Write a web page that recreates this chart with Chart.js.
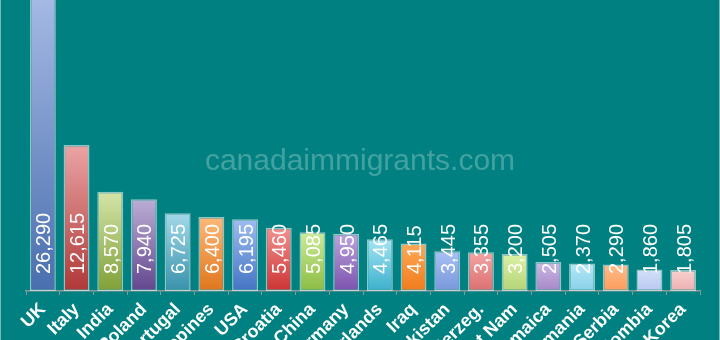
<!DOCTYPE html>
<html>
<head>
<meta charset="utf-8">
<script src="https://cdn.jsdelivr.net/npm/chart.js@4"></script>
<style>
  html, body { margin: 0; padding: 0; background: #008080; overflow: hidden; }
  #wrap { width: 720px; height: 340px; position: relative; }
</style>
</head>
<body>
<div id="wrap"><canvas id="c" width="720" height="340"></canvas></div>
<script>
const categories = ["UK", "Italy", "India", "Poland", "Portugal", "Philippines", "USA", "Croatia", "China", "Germany",
  "Netherlands", "Iraq", "Pakistan", "Bosnia-Herzeg.", "Viet Nam", "Jamaica", "Romania", "Serbia", "Colombia", "S. Korea"];
const immigrants = [26290, 12615, 8570, 7940, 6725, 6400, 6195, 5460, 5085, 4950,
  4465, 4115, 3445, 3355, 3200, 2505, 2370, 2290, 1860, 1805];
const topColors = ["#a8bce6", "#eaa4a4", "#d4e4a8", "#bcaed6", "#a4d8ea", "#fdb878", "#9ebcf0", "#f49090", "#cceb98", "#bca4dc",
  "#a4e4f4", "#ffa858", "#a8c0f4", "#f4a4a4", "#dcf0a4", "#ccb8e4", "#b4e8f8", "#ffbc8c", "#d4e0f8", "#f8d0d0"];
const bottomColors = ["#4a6fae", "#b03838", "#80a038", "#62468e", "#3892aa", "#e0761e", "#4474c4", "#cc3434", "#8cbc44", "#7c52ae",
  "#3cb0cc", "#f07c1c", "#7898dc", "#dc7070", "#b4d478", "#a488c8", "#88d0e8", "#fc9c5c", "#b8c8f0", "#ecb0b0"];
const watermark = "canadaimmigrants.com";

const FONT = "'Liberation Sans', Arial, sans-serif";

const bgPlugin = {
  id: 'bg',
  beforeDraw(chart) {
    const ctx = chart.ctx;
    ctx.save();
    ctx.fillStyle = '#008080';
    ctx.fillRect(0, 0, chart.width, chart.height);
    ctx.fillStyle = 'rgba(200,225,225,0.6)';
    ctx.fillRect(0, 0, 1, chart.height);
    ctx.fillRect(chart.width - 1, 0, 1, chart.height);
    ctx.font = '30px ' + FONT;
    ctx.fillStyle = 'rgba(255,255,255,0.26)';
    ctx.textAlign = 'center';
    ctx.textBaseline = 'alphabetic';
    ctx.fillText(watermark, 360, 170);
    ctx.restore();
  }
};

const valuePlugin = {
  id: 'vals',
  afterDatasetsDraw(chart) {
    const ctx = chart.ctx;
    const meta = chart.getDatasetMeta(0);
    const base = chart.scales.y.getPixelForValue(0);
    ctx.save();
    ctx.font = '20px ' + FONT;
    ctx.fillStyle = '#ffffff';
    ctx.textAlign = 'left';
    ctx.textBaseline = 'alphabetic';
    meta.data.forEach((bar, i) => {
      ctx.save();
      ctx.translate(bar.x + 7.5, base - 17);
      ctx.rotate(-Math.PI / 2);
      ctx.fillText(immigrants[i].toLocaleString('en-US'), 0, 0);
      ctx.restore();
    });
    ctx.restore();
  }
};

function barGradient(context) {
  const chart = context.chart;
  const i = context.dataIndex;
  const area = chart.chartArea;
  if (!area || i === undefined) return bottomColors[i || 0];
  const y = chart.scales.y;
  const top = y.getPixelForValue(immigrants[i]);
  const bot = y.getPixelForValue(0);
  const g = chart.ctx.createLinearGradient(0, top, 0, bot);
  g.addColorStop(0, topColors[i]);
  g.addColorStop(1, bottomColors[i]);
  return g;
}

new Chart(document.getElementById('c'), {
  type: 'bar',
  data: {
    labels: categories,
    datasets: [{
      data: immigrants,
      backgroundColor: barGradient,
      borderColor: 'rgba(255,255,255,0.55)',
      borderWidth: 1.5,
      borderSkipped: false,
      categoryPercentage: 1.0,
      barPercentage: 0.77
    }]
  },
  options: {
    responsive: false,
    animation: false,
    layout: { padding: { left: 26, right: 20, top: 0, bottom: 0 } },
    plugins: { legend: { display: false }, tooltip: { enabled: false }, title: { display: false } },
    scales: {
      x: {
        grid: { display: true, drawOnChartArea: false, drawTicks: true, tickLength: 4, color: '#8a9a9a', offset: true },
        border: { display: true, color: '#8a9a9a', width: 1.5 },
        ticks: {
          color: '#ffffff',
          font: { family: FONT, size: 18, weight: 'bold' },
          minRotation: 45, maxRotation: 45, autoSkip: false, padding: 4
        },
        afterFit(scale) { scale.height = 49; }
      },
      y: {
        display: false,
        min: 0,
        max: 25150
      }
    }
  },
  plugins: [bgPlugin, valuePlugin]
});
</script>
</body>
</html>
